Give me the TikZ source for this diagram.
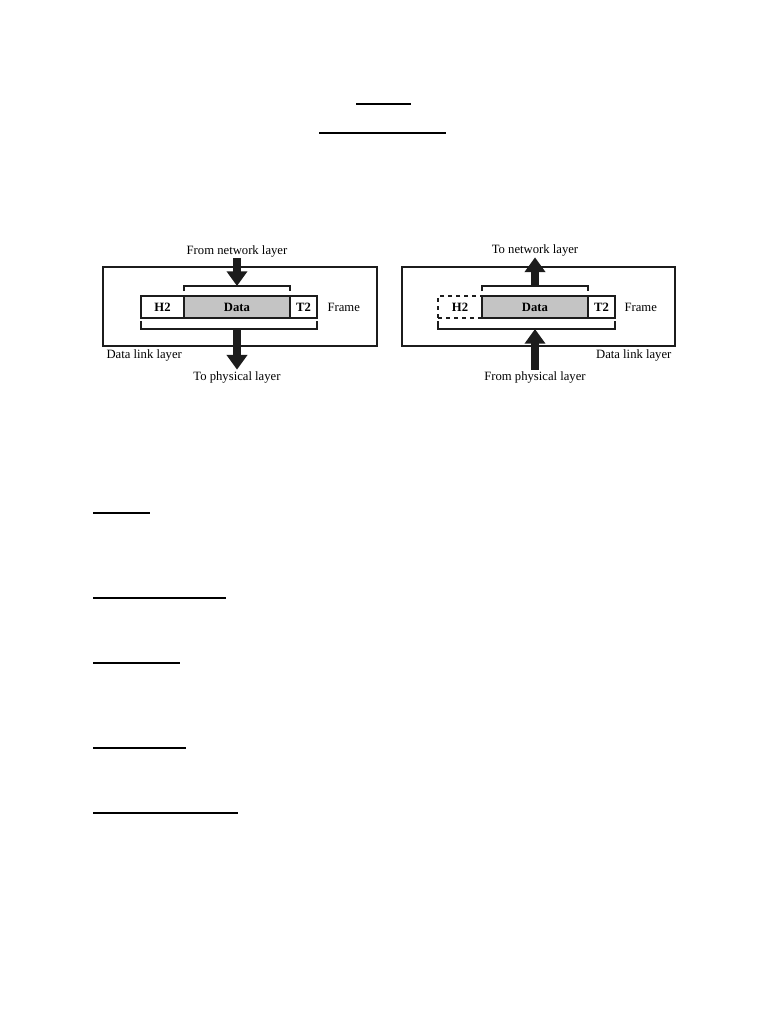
\documentclass[tikz,border=0pt]{standalone}
\usepackage{fontspec}
\setmainfont{Liberation Serif}
\usepackage{tikz}
\usetikzlibrary{arrows.meta,positioning,calc}
\definecolor{stipple}{RGB}{196,196,196}
\definecolor{inkdark}{RGB}{28,28,28}

\begin{document}
\begin{tikzpicture}[x=0.75pt,y=-0.75pt,
    every node/.style={font=\fontsize{9.5}{11}\selectfont, inner sep=1pt},
    cell/.style={draw=inkdark, thick, outer sep=0pt, minimum height=16.5pt, inner sep=0pt, font=\fontsize{9.5}{11}\selectfont\bfseries},
    datacell/.style={cell, fill=stipple, minimum width=79.5pt},
    layerbox/.style={draw=inkdark, line width=1.3pt},
    bigarrow/.style={draw=inkdark, line width=6pt, -{Triangle[width=15pt,length=11pt]}},
    bracket/.style={draw=inkdark, thick},
    rule/.style={draw=black, line width=1.6pt}]
    \useasboundingbox (0,0) rectangle (768,1024);

    % title rules
    \draw[rule] (356,104) -- (411,104);
    \draw[rule] (319,133) -- (446,133);

    % left: sending side
    \draw[layerbox] (103,267) rectangle (377,346);
    \node[cell, minimum width=32.25pt, anchor=west] (h2L) at (141,307) {H2};
    \node[datacell, right=0pt of h2L] (dataL) {Data};
    \node[cell, minimum width=20.25pt, right=0pt of dataL] (t2L) {T2};
    \node[anchor=west] (frameL) at (326,307) {Frame};
    \draw[bracket] ($(dataL.north west)+(0,-5)$) -- ++(0,-5) -| ($(dataL.north east)+(0,-5)$);
    \draw[bracket] ($(h2L.south west)+(0,3)$) -- ++(0,8) -| ($(t2L.south east)+(0,3)$);
    \coordinate (topL) at ($(dataL.north)+(0,-10)$);
    \coordinate (botL) at ($(dataL.south)+(0,11)$);
    \node (netL) at (237,251) {From network layer};
    \node (physL) at (237,377) {To physical layer};
    \node[anchor=west] (dllL) at (105,355) {Data link layer};
    \draw[bigarrow] (netL.south) -- (topL);
    \draw[bigarrow] (botL) -- (physL.north);

    % right: receiving side
    \draw[layerbox] (402,267) rectangle (675,346);
    \node[cell, dashed, minimum width=33pt, anchor=west] (h2R) at (438,307) {H2};
    \node[datacell, right=0pt of h2R] (dataR) {Data};
    \node[cell, minimum width=20.25pt, right=0pt of dataR] (t2R) {T2};
    \node[anchor=west] (frameR) at (623,307) {Frame};
    \draw[bracket] ($(dataR.north west)+(0,-5)$) -- ++(0,-5) -| ($(dataR.north east)+(0,-5)$);
    \draw[bracket] ($(h2R.south west)+(0,3)$) -- ++(0,8) -| ($(t2R.south east)+(0,3)$);
    \coordinate (topR) at ($(dataR.north)+(0,-10)$);
    \coordinate (botR) at ($(dataR.south)+(0,11)$);
    \node (netR) at (535,250) {To network layer};
    \node (physR) at (535,377) {From physical layer};
    \node[anchor=east] (dllR) at (673,355) {Data link layer};
    \draw[bigarrow] (topR) -- (netR.south);
    \draw[bigarrow] (physR.north) -- (botR);

    % heading rules
    \foreach \y/\e in {513/150, 598/226, 663/180, 748/186, 813/238} {
        \draw[rule] (93,\y) -- (\e,\y);
    }
\end{tikzpicture}
\end{document}
